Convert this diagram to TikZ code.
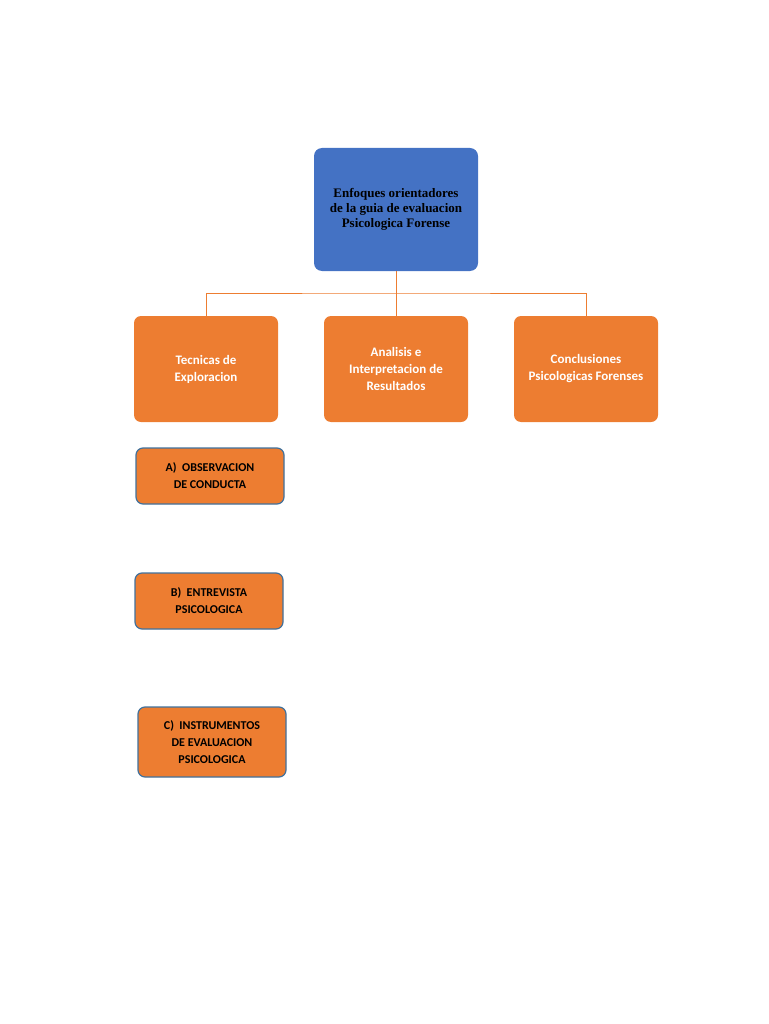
\documentclass[tikz,border=0pt]{standalone}
\usepackage{fontspec}
\setmainfont{Carlito}
\newfontfamily\serifb{Liberation Serif}
\definecolor{blu}{HTML}{4472C4}
\definecolor{org}{HTML}{ED7D31}
\definecolor{edg}{HTML}{41719C}
\begin{document}
\begin{tikzpicture}[x=1pt,y=-1pt,
  topbox/.style={fill=blu,rounded corners=8pt,minimum width=164pt,minimum height=123pt,align=center,font=\serifb\bfseries\fontsize{13}{15}\selectfont},
  obox/.style={fill=org,rounded corners=7pt,minimum width=144pt,minimum height=106pt,align=center,text=white,font=\bfseries\fontsize{13}{17}\selectfont},
  sbox/.style={fill=org,draw=edg,line width=1.2pt,rounded corners=7pt,align=center,font=\bfseries\fontsize{12}{17}\selectfont},
  conn/.style={draw=org,line width=0.8pt}]
\useasboundingbox (0,0) rectangle (768,1024);
\node[topbox] (t) at (396,209.5) {Enfoques orientadores\\de la guia de evaluacion\\Psicologica Forense};
\node[obox] (a) at (206,369) {Tecnicas de\\Exploracion};
\node[obox] (b) at (396,369) {Analisis e\\Interpretacion de\\Resultados};
\node[obox] (c) at (586,369) {Conclusiones\\Psicologicas Forenses};
\node[sbox,minimum width=148pt,minimum height=56pt] (s1) at (210,476) {A)\ \ OBSERVACION\\DE CONDUCTA};
\node[sbox,minimum width=148pt,minimum height=56pt] (s2) at (209,601) {B)\ \ ENTREVISTA\\PSICOLOGICA};
\node[sbox,minimum width=148pt,minimum height=70pt] (s3) at (212,742) {C)\ \ INSTRUMENTOS\\DE EVALUACION\\PSICOLOGICA};
\coordinate (j) at (396,293);
\draw[conn] (t.south) -- (j);
\draw[conn] (a.north) |- (j) -| (c.north);
\draw[conn] (j) -- (b.north);
\end{tikzpicture}
\end{document}
